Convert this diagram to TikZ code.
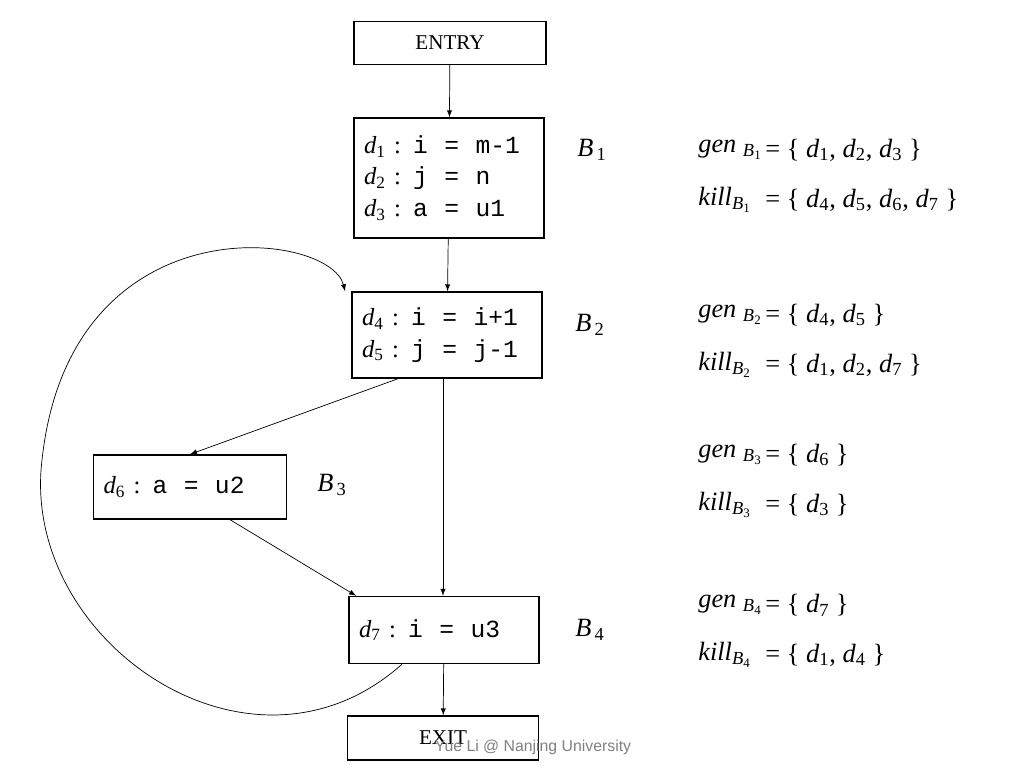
\documentclass[tikz,border=0pt]{standalone}
\usepackage{fontspec}
\setmainfont{Liberation Serif}
\setmonofont{Liberation Mono}
\newfontfamily\wmfont{Liberation Sans}
\newcommand{\dd}[1]{\textit{d}\textsubscript{#1}}
\newcommand{\sub}[1]{\textsubscript{\textit{#1}}}
\newcommand{\cd}[3]{\texttt{#1~~#2~~#3}}
\begin{document}
\begin{tikzpicture}[x=0.02cm,y=-0.02cm,
  blk/.style={draw,thick,inner xsep=0.2cm,font=\fontsize{14}{18}\selectfont,align=left},
  lbl/.style={font=\fontsize{15}{17}\selectfont\itshape},
  eqn/.style={font=\fontsize{15}{17}\selectfont,anchor=west,inner sep=0pt},
  arr/.style={-latex,thin}]
\useasboundingbox (0,0) rectangle (1025,770);
\node[blk,minimum width=3.84cm,minimum height=0.86cm,align=center,font=\fontsize{12}{14}\selectfont] (entry) at (450,43) {ENTRY};
\node[blk,text width=3.4cm,minimum height=2.4cm] (b1) at (449,178) {\dd1 : \cd{i}{=}{m-1}\\\dd2 : \cd{j}{=}{n}\\\dd3 : \cd{a}{=}{u1}};
\node[blk,text width=3.4cm,minimum height=1.72cm] (b2) at (447,335) {\dd4 : \cd{i}{=}{i+1}\\\dd5 : \cd{j}{=}{j-1}};
\node[blk,text width=3.46cm,minimum height=1.28cm] (b3) at (190,487) {\dd6 : \cd{a}{=}{u2}};
\node[blk,text width=3.4cm,minimum height=1.34cm] (b4) at (444,630) {\dd7 : \cd{i}{=}{u3}};
\node[blk,minimum width=3.82cm,minimum height=0.88cm,align=center,font=\fontsize{12}{14}\selectfont] (exit) at (443,738) {EXIT};
\node[lbl] (lb1) at (592,150) {B\textsubscript{\upshape\,1}};
\node[lbl] (lb2) at (590,325) {B\textsubscript{\upshape\,2}};
\node[lbl] (lb3) at (332,485) {B\textsubscript{\upshape\,3}};
\node[lbl] (lb4) at (590,630) {B\textsubscript{\upshape\,4}};
\draw[arr] (entry) -- (b1);
\draw[arr] (b1) -- (b2);
\draw[arr] (b2.south) ++(-49,0) coordinate (s2) (s2) -- (b3.north);
\draw[arr] (b2.south) ++(-4,0) coordinate (s3) (s3) -- (s3 |- b4.north);
\draw[arr] (b3.south) ++(40,0) coordinate (s4) (s4) -- ([xshift=-50]b4.north);
\draw[arr] (b4) -- (exit);
\draw[arr] (b4.south) ++(-42,0) coordinate (s5) (s5) .. controls (250,800) and (20,640) .. (42,460) .. controls (70,200) and (330,230) .. ([xshift=-58]b2.north);
\foreach \y/\n/\g/\k in {150/1/{\dd1,\ \dd2,\ \dd3}/{\dd4,\ \dd5,\ \dd6,\ \dd7},
                          315/2/{\dd4,\ \dd5}/{\dd1,\ \dd2,\ \dd7},
                          455/3/{\dd6}/{\dd3},
                          605/4/{\dd7}/{\dd1,\ \dd4}}{
  \node[eqn] (g\n) at (698,\y) {\textit{gen} \sub{B\textsubscript{\upshape\n}}};
  \node[eqn] (ge\n) at (765,\y) {= \{ \g\ \}};
  \node[eqn] (k\n) at (698,\y+50) {\textit{kill}\sub{B\textsubscript{\upshape\n}}};
  \node[eqn] (ke\n) at (765,\y+50) {= \{ \k\ \}};
}
\node[font=\wmfont\fontsize{9}{10}\selectfont,text=gray] (wm) at (533,747) {Yue Li @ Nanjing University};
\end{tikzpicture}
\end{document}
